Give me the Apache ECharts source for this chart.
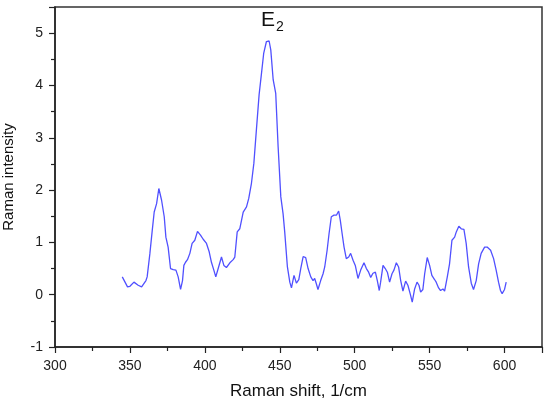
<!DOCTYPE html>
<html>
<head>
<meta charset="utf-8">
<script src="https://cdn.jsdelivr.net/npm/echarts@6/dist/echarts.min.js"></script>
<style>
html,body{margin:0;padding:0;background:#fff;}
#chart{width:550px;height:402px;}
</style>
</head>
<body>
<div id="chart"></div>
<script>
var ramanShift = [344.9,348.4,350,352.7,355.5,357.8,360.7,361.5,363.3,364.9,366.2,367.8,369.3,371.1,372.9,374,375.5,377.1,378.9,380.7,382.2,383.8,385.1,386,387.1,388.4,390,391.5,393.3,395.1,397.1,398.9,401.1,402.9,404.4,406,407.3,408.9,411.1,412.7,414.4,416.7,418.9,420,421.6,423.3,425.6,427.8,429.3,431.1,432.7,434.4,436.2,437.8,439.3,441.1,442.9,444,445.6,447.3,448.9,450.7,452.2,453.3,455.1,456.7,457.8,459.5,461.1,462.7,464,465.6,467.3,468.9,470.7,472.2,473.3,474.4,475.5,477.3,478.9,480,481.6,482.9,484.4,486.2,487.8,489.3,490.4,491.6,492.9,494.4,496,497.3,498.9,500.4,502.2,504,506.2,507.8,509.3,510.7,512.2,513.8,515.1,516.4,517.3,518.9,520.4,521.8,523.3,524.9,526.2,527.8,529.3,530.7,532.2,534,535.5,537.1,538.4,540,541.6,542.9,544,545.5,546.7,548.4,550,551.5,553.3,554.4,556,557.3,558.9,560,561.8,563.3,564.9,566.7,567.8,569.5,571.1,572.9,574.4,576,577.8,579.3,581.1,582.7,584.4,586.7,588.4,590.7,592.7,594.4,596,597.3,598.4,600,601.1];
var ramanIntensity = [0.34,0.15,0.16,0.24,0.18,0.15,0.27,0.34,0.78,1.23,1.58,1.74,2.03,1.81,1.49,1.10,0.91,0.50,0.48,0.47,0.34,0.10,0.27,0.56,0.62,0.67,0.79,0.98,1.04,1.21,1.14,1.06,0.98,0.82,0.62,0.47,0.34,0.50,0.72,0.56,0.52,0.61,0.67,0.72,1.20,1.26,1.58,1.68,1.84,2.13,2.51,3.15,3.82,4.23,4.62,4.84,4.85,4.68,4.11,3.85,2.83,1.87,1.55,1.20,0.53,0.24,0.13,0.37,0.22,0.29,0.50,0.73,0.71,0.50,0.34,0.27,0.31,0.21,0.10,0.27,0.40,0.53,0.85,1.17,1.49,1.52,1.52,1.60,1.42,1.17,0.91,0.69,0.72,0.79,0.66,0.56,0.31,0.47,0.61,0.50,0.43,0.33,0.41,0.43,0.27,0.08,0.24,0.56,0.50,0.43,0.24,0.40,0.47,0.61,0.53,0.27,0.07,0.26,0.18,0.01,-0.14,0.11,0.24,0.18,0.05,0.10,0.40,0.71,0.56,0.37,0.29,0.24,0.13,0.08,0.11,0.07,0.34,0.59,1.04,1.10,1.20,1.31,1.26,1.25,0.98,0.53,0.22,0.10,0.27,0.59,0.79,0.91,0.91,0.85,0.69,0.47,0.24,0.08,0.02,0.10,0.24];
var xTicks = [300,350,400,450,500,550,600];
var yTicks = [-1,0,1,2,3,4,5];

var data = ramanShift.map(function(x,i){return [x, ramanIntensity[i]];});
var chart = echarts.init(document.getElementById('chart'));
var font = 'Liberation Sans, Arial, sans-serif';
chart.setOption({
  animation:false,
  backgroundColor:'#fff',
  grid:{left:55,right:8,top:7,bottom:55,containLabel:false,outerBoundsMode:'none',show:true,borderColor:'#333',borderWidth:1.5,backgroundColor:'transparent'},
  xAxis:{
    type:'value',min:300,max:625,interval:50,
    name:'Raman shift, 1/cm',nameLocation:'middle',nameGap:36,
    nameTextStyle:{fontFamily:font,fontSize:17,color:'#111'},
    axisLine:{onZero:false,lineStyle:{color:'#222',width:1.5}},
    axisTick:{inside:false,length:6,lineStyle:{color:'#222',width:1.2}},
    minorTick:{show:true,splitNumber:2,length:4,lineStyle:{color:'#222',width:1.2}},
    splitLine:{show:false},
    axisLabel:{fontFamily:font,fontSize:14,color:'#222',margin:12,
      formatter:function(v){return xTicks.indexOf(v)>=0?String(v):'';}}
  },
  yAxis:{
    type:'value',min:-1,max:5.5,interval:1,
    name:'Raman intensity',nameLocation:'middle',nameGap:39,
    nameTextStyle:{fontFamily:font,fontSize:15,color:'#111'},
    axisLine:{show:true,onZero:false,lineStyle:{color:'#222',width:1.5}},
    axisTick:{show:true,inside:false,length:6,lineStyle:{color:'#222',width:1.2}},
    minorTick:{show:true,splitNumber:2,length:4,lineStyle:{color:'#222',width:1.2}},
    splitLine:{show:false},
    axisLabel:{fontFamily:font,fontSize:14,color:'#222',margin:12,
      formatter:function(v){return yTicks.indexOf(v)>=0?String(v):'';}}
  },
  graphic:[
    {type:'text',left:261,top:10,style:{text:'E',fontFamily:font,fontSize:21,fill:'#111'}},
    {type:'text',left:276,top:20,style:{text:'2',fontFamily:font,fontSize:14,fill:'#111'}}
  ],
  series:[{
    type:'line',data:data,showSymbol:false,smooth:false,
    lineStyle:{color:'#5050ff',width:1.3}
  }]
});
</script>
</body>
</html>
